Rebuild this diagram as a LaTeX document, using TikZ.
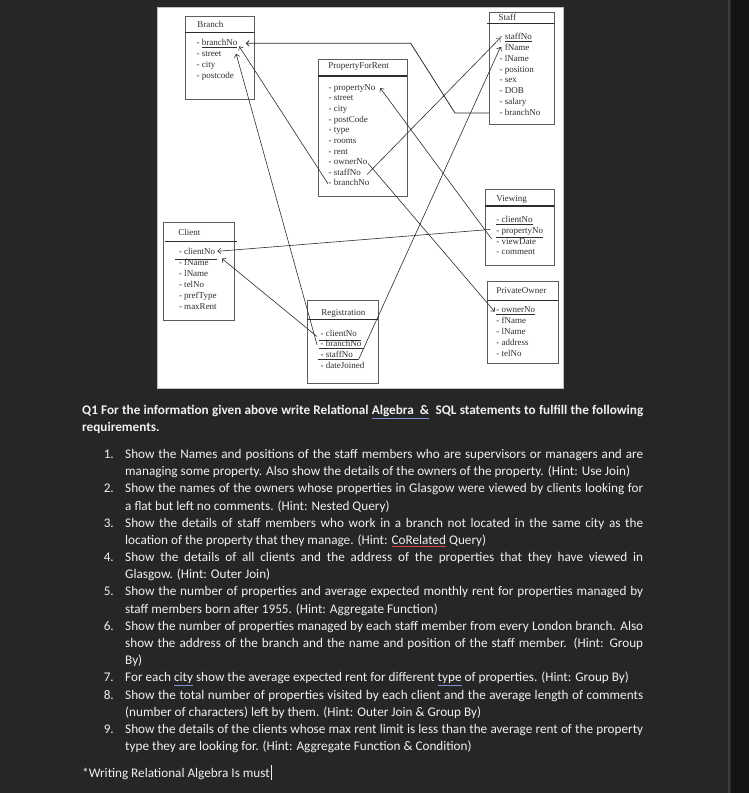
\documentclass[tikz,border=0pt]{standalone}
\usepackage{fontspec}
\setmainfont{Liberation Serif}
\newfontfamily\calibri{Carlito}
\usetikzlibrary{arrows.meta}
\definecolor{page}{HTML}{262626}
\definecolor{pane}{HTML}{141414}
\definecolor{split}{HTML}{3C3C3C}
\definecolor{ink}{HTML}{2E2E2E}
\definecolor{edge}{HTML}{5C5C5C}
\definecolor{paper}{HTML}{F0F0F0}
\definecolor{gramblue}{HTML}{8090D8}
\definecolor{spellred}{HTML}{D04848}

\newcommand{\gramline}[1]{{\color{gramblue}\underline{\color{paper}#1}}}
\newcommand{\spelline}[1]{{\color{spellred}\underline{\color{paper}#1}}}
\tolerance=10000
\hyphenpenalty=10000
\exhyphenpenalty=10000

\begin{document}
\begin{tikzpicture}[
  x=1pt, y=-1pt,
  entity/.style = {draw=edge, line width=0.8pt, anchor=north west, inner sep=0pt},
  header/.style = {draw=ink, line width=1.1pt},
  title/.style  = {anchor=west, inner sep=0.5pt, text=ink,
                   font=\fontsize{9}{10.8}\selectfont},
  attr/.style   = {anchor=west, inner sep=0.5pt, text=ink, text height=6.3pt,
                   text depth=1.8pt, font=\fontsize{9}{10.8}\selectfont},
  uline/.style  = {draw=ink, line width=0.8pt},
  link/.style   = {draw=ink, line width=0.6pt,
                   -{Straight Barb[length=3pt,width=5.5pt]}},
  num/.style    = {anchor=base west, inner sep=0pt, text=paper,
                   font=\calibri\fontsize{13.2}{17.18}\selectfont},
  txt/.style    = {anchor=base west, inner sep=0pt, text=paper, align=justify,
                   text width=518pt, font=\calibri\fontsize{13.2}{17.18}\selectfont},
]
\useasboundingbox (0,0) rectangle (749,793);
\fill[page] (0,0) rectangle (749,793);
\fill[pane] (731,0) rectangle (749,793);
\draw[split, line width=2pt] (729,0) -- (729,793);
\fill[white, draw=black!25] (157.5,7.5) rectangle (563.5,388.5);

% entity boxes
\node[entity, minimum width=69pt, minimum height=83pt] (branch) at (185,16) {};
\node[entity, minimum width=65pt, minimum height=112pt] (staff) at (489,12.3) {};
\node[entity, minimum width=89pt, minimum height=137pt] (pfr) at (317.7,59) {};
\node[entity, minimum width=69pt, minimum height=76pt] (viewing) at (485,189.3) {};
\node[entity, minimum width=71.3pt, minimum height=98.3pt] (client) at (162.7,221.7) {};
\node[entity, minimum width=71pt, minimum height=82.7pt] (reg) at (306.7,300) {};
\node[entity, minimum width=71pt, minimum height=82.3pt] (owner) at (486.7,281) {};

\draw[header] (185,32.3) -- (254,32.3);
\draw[header] (487,23.3) -- (554,23.3);
\draw[header] (317.7,76) -- (406.7,76);
\draw[header] (485,206) -- (554,206);
\draw[header] (165,241.7) -- (236.7,241.7);
\draw[header] (306.7,319.5) -- (377.7,319.5);
\draw[header] (486.7,300.7) -- (557.7,300.7);

\node[title] (branch-t) at (196.7,24.3) {Branch};
\node[title] (staff-t) at (498,16.9) {Staff};
\node[title] (pfr-t) at (327.7,66.7) {PropertyForRent};
\node[title] (viewing-t) at (495.7,199.5) {Viewing};
\node[title] (client-t) at (177.7,232.7) {Client};
\node[title] (reg-t) at (320.7,313) {Registration};
\node[title] (owner-t) at (495.7,291) {PrivateOwner};

% attributes
\node[attr] (br-branchNo) at (196,43.3) {- \underline{branchNo}};
\foreach \a [count=\i] in {street,city,postcode}
  \node[attr] (br-\a) at (196,43.3+11*\i) {- \a};

\node[attr] (st-staffNo) at (499,37.7) {- \underline{staffNo}};
\foreach \a [count=\i] in {fName,lName,position,sex,DOB,salary,branchNo}
  \node[attr] (st-\a) at (499,37.7+10.76*\i) {- \a};

\node[attr] (pfr-propertyNo) at (328,88) {- propertyNo};
\foreach \a [count=\i] in {street,city,postCode,type,rooms,rent,ownerNo,staffNo,branchNo}
  \node[attr] (pfr-\a) at (328,88+10.63*\i) {- \a};

\node[attr] (vw-clientNo) at (495.7,220.7) {\underline{- clientNo}};
\node[attr] (vw-propertyNo) at (495.7,231.3) {\underline{- propertyNo}};
\node[attr] (vw-viewDate) at (495.7,242) {- viewDate};
\node[attr] (vw-comment) at (495.7,252.7) {- comment};

\node[attr] (cl-clientNo) at (178.3,252.3) {- clientNo};
\foreach \a [count=\i] in {fName,lName,telNo,prefType,maxRent}
  \node[attr] (cl-\a) at (178.3,252.3+11.08*\i) {- \a};

\node[attr] (rg-clientNo) at (320,334) {- clientNo};
\node[attr] (rg-branchNo) at (320,344.7) {- branchNo};
\node[attr] (rg-staffNo) at (320,355.3) {- staffNo};
\node[attr] (rg-dateJoined) at (320,366.3) {- dateJoined};

\node[attr] (po-ownerNo) at (495.7,310.7) {\underline{- ownerNo}};
\foreach \a [count=\i] in {fName,lName,address,telNo}
  \node[attr] (po-\a) at (495.7,310.7+10.83*\i) {- \a};

% key lines
\draw[uline] ([shift={(-3,2.2)}]cl-clientNo.south west) -- ([shift={(1,2.2)}]cl-clientNo.south east) coordinate (cl-uline);
\draw[uline] ([shift={(-1,1.5)}]rg-clientNo.south west) -- ([shift={(3,1.5)}]rg-clientNo.south east);
\draw[uline] ([shift={(-1,-1)}]rg-branchNo.south west) -- ([shift={(2,-1)}]rg-branchNo.south east);
\draw[uline] ([shift={(-2,-0.3)}]rg-staffNo.south west) -- ([shift={(5,-0.3)}]rg-staffNo.south east) coordinate (rg-staffEnd);

% connectors
\coordinate (bendlow) at (455,113);
\coordinate (bendhigh) at (410.7,43.3);
\draw[link, line width=0.8pt] (staff.west |- st-branchNo.west) -- (bendlow) -- (bendhigh)
  -- ([xshift=7.5pt]br-branchNo.east);
\draw[link] (pfr-branchNo.west) -- ([shift={(1,3)}]br-branchNo.east);
\draw[link] ([xshift=-3pt]rg-branchNo.west) -- ([shift={(-2,10.5)}]br-branchNo.east);
\draw[link] ([shift={(5.5,1.5)}]pfr-staffNo.east) -- ([xshift=1.5pt]st-staffNo.west);
\draw[link] (rg-staffEnd) -- ([shift={(1.5,-1.5)}]st-fName.west);
\draw[link] ([shift={(0,1)}]pfr-ownerNo.east) -- ([shift={(-1,1)}]po-ownerNo.west);
\draw[link] ([shift={(-4,3)}]vw-propertyNo.south west) -- ([xshift=4pt]pfr-propertyNo.east);
\draw[link] ([shift={(-5.5,4)}]vw-clientNo.south west) -- ([shift={(1.5,-1)}]cl-clientNo.east);
\draw[link] ([shift={(-3,2.5)}]rg-clientNo.west) -- ([shift={(5,-0.7)}]cl-uline);

% questions
\node[txt, text width=561pt, font=\calibri\bfseries\fontsize{13.2}{16.7}\selectfont] (q1) at (82,414.5)
  {Q1 For the information given above write Relational \gramline{Algebra~~\&}\ \ SQL statements to fulfill the following\linebreak requirements.};

\node[num] (n1) at (103.6,458.5) {1.};
\node[txt] (t1) at (125,458.5)
  {Show the Names and positions of the staff members who are supervisors or managers and are\linebreak managing some property. Also show the details of the owners of the property. (Hint: Use Join)};
\node[num] (n2) at (103.6,492.9) {2.};
\node[txt] (t2) at (125,492.9)
  {Show the names of the owners whose properties in Glasgow were viewed by clients looking for\linebreak a flat but left no comments. (Hint: Nested Query)};
\node[num] (n3) at (103.6,527.2) {3.};
\node[txt] (t3) at (125,527.2)
  {Show the details of staff members who work in a branch not located in the same city as the\linebreak location of the property that they manage. (Hint: \spelline{CoRelated} Query)};
\node[num] (n4) at (103.6,561.6) {4.};
\node[txt] (t4) at (125,561.6)
  {Show the details of all clients and the address of the properties that they have viewed in\linebreak Glasgow. (Hint: Outer Join)};
\node[num] (n5) at (103.6,595.9) {5.};
\node[txt] (t5) at (125,595.9)
  {Show the number of properties and average expected monthly rent for properties managed by\linebreak staff members born after 1955. (Hint: Aggregate Function)};
\node[num] (n6) at (103.6,630.3) {6.};
\node[txt] (t6) at (125,630.3)
  {Show the number of properties managed by each staff member from every London branch. Also\linebreak show the address of the branch and the name and position of the staff member. (Hint: Group\linebreak By)};
\node[num] (n7) at (103.6,681.8) {7.};
\node[txt] (t7) at (125,681.8)
  {For each \gramline{city} show the average expected rent for different \gramline{type} of properties. (Hint: Group By)};
\node[num] (n8) at (103.6,699) {8.};
\node[txt] (t8) at (125,699)
  {Show the total number of properties visited by each client and the average length of comments\linebreak (number of characters) left by them. (Hint: Outer Join \& Group By)};
\node[num] (n9) at (103.6,733.4) {9.};
\node[txt] (t9) at (125,733.4)
  {Show the details of the clients whose max rent limit is less than the average rent of the property\linebreak type they are looking for. (Hint: Aggregate Function \& Condition)};

\node[num] (note) at (82,777.2) {*Writing Relational Algebra Is must};
\draw[paper, line width=0.6pt] ([shift={(1,-12)}]note.base east) -- ([shift={(1,3)}]note.base east);

\end{tikzpicture}
\end{document}
